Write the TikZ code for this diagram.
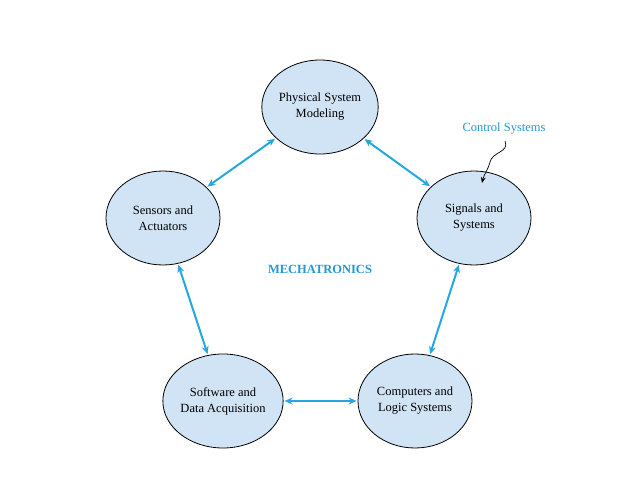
\documentclass[tikz,border=0pt]{standalone}
\usepackage{fontspec}
\setmainfont{Liberation Serif}
\usetikzlibrary{shapes.geometric,arrows.meta}
\definecolor{fillb}{RGB}{208,228,245}
\definecolor{arr}{RGB}{38,168,222}
\definecolor{txtb}{RGB}{40,150,210}
\tikzset{
  circ/.style={ellipse,draw=black,line width=0.8pt,fill=fillb,minimum width=114pt,minimum height=94pt,align=center,font=\fontsize{12.5}{16}\selectfont,inner sep=0pt},
  link/.style={arr,line width=2pt,{Stealth[length=8pt,width=7pt]}-{Stealth[length=8pt,width=7pt]},shorten <=1pt,shorten >=1pt}
}
\begin{document}
\begin{tikzpicture}[x=1pt,y=-1pt]
\useasboundingbox (0,0) rectangle (638,478);
\node[circ] (phys) at (320,107) {Physical System\\Modeling};
\node[circ] (sens) at (163,218) {Sensors and\\Actuators};
\node[circ] (sig) at (474,218) {Signals and\\Systems};
\node[circ] (soft) at (223,401) {Software and\\Data Acquisition};
\node[circ] (comp) at (415,401) {Computers and\\Logic Systems};
\node[font=\fontsize{12.5}{14}\selectfont\bfseries,text=txtb] (mech) at (320,269) {MECHATRONICS};
\node[font=\fontsize{12.5}{14}\selectfont,text=txtb] (ctrl) at (504,129) {Control Systems};
\draw[link] (phys) -- (sens);
\draw[link] (phys) -- (sig);
\draw[link] (sens) -- (soft);
\draw[link] (sig) -- (comp);
\draw[link] (soft) -- (comp);
\coordinate (cs) at (505,141);
\draw[line width=0.7pt,-{Stealth[length=6pt,width=5pt]}] (cs) .. controls (510,152) and (492,152) .. (490,162) .. controls (488,170) and (484,174) .. (482,183);
\end{tikzpicture}
\end{document}
